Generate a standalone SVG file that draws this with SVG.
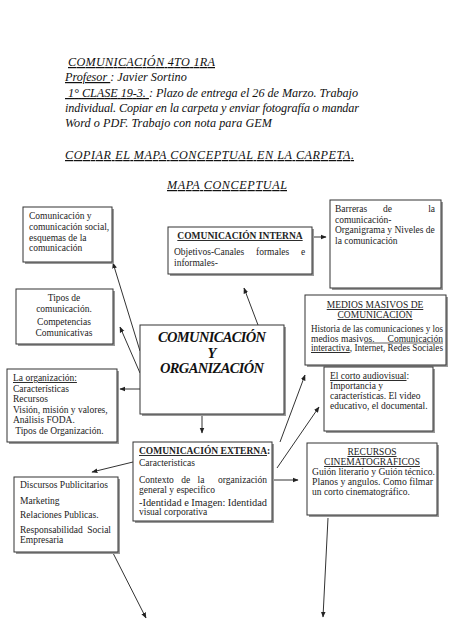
<svg xmlns="http://www.w3.org/2000/svg" width="453" height="640" viewBox="0 0 453 640">
<style>
.bg{fill:#fff}
.sh{fill:#9a9a9a}
.bx{fill:#fff;stroke:#333;stroke-width:1}
.h{font-family:"Liberation Serif","Times New Roman",serif;font-style:italic;font-size:12.2px;fill:#111}
.t{font-family:"Liberation Serif","Times New Roman",serif;font-size:9.5px;fill:#222}
.b{font-weight:bold}
.u{text-decoration:underline}
.c{text-anchor:middle}
.e{text-anchor:end}
.ul{stroke:#222;stroke-width:0.7}
.big{font-family:"Liberation Serif","Times New Roman",serif;font-style:italic;font-weight:bold;font-size:14.5px;fill:#111;text-anchor:middle}
.ln{stroke:#333;stroke-width:1;fill:none;marker-end:url(#ah)}
</style>
<defs>
<marker id="ah" viewBox="0 0 10 10" refX="9" refY="5" markerWidth="6" markerHeight="6" markerUnits="userSpaceOnUse" orient="auto">
<path d="M0,1 L10,5 L0,9 z" fill="#222"/>
</marker>
</defs>
<rect class="bg" width="453" height="640"/>
<g id="header">
<text class="h u" x="68" y="66" textLength="147">COMUNICACIÓN 4TO 1RA</text>
<text class="h" x="65" y="81"><tspan class="u">Profesor </tspan>: Javier Sortino</text>
<text class="h" x="65" y="97" xml:space="preserve" textLength="293"><tspan class="u"> 1° CLASE 19-3. </tspan>: Plazo de entrega el 26 de Marzo. Trabajo</text>
<text class="h" x="65" y="112" textLength="294">individual. Copiar en la carpeta y enviar fotografía o mandar</text>
<text class="h" x="65" y="127" textLength="207">Word o PDF. Trabajo con nota para GEM</text>
<text class="h u" x="65" y="159" textLength="289">COPIAR EL MAPA CONCEPTUAL EN LA CARPETA.</text>
<text class="h u" x="167" y="189" textLength="120">MAPA CONCEPTUAL</text>
</g>
<g id="connectors">
<line class="ln" x1="140" y1="351" x2="113" y2="263"/>
<line class="ln" x1="140" y1="373" x2="120" y2="327"/>
<line class="ln" x1="140" y1="389" x2="120" y2="389"/>
<line class="ln" x1="258" y1="325" x2="244" y2="288"/>
<line class="ln" x1="314" y1="237" x2="326" y2="237"/>
<line class="ln" x1="202" y1="415" x2="202" y2="433"/>
<line class="ln" x1="133" y1="462" x2="92" y2="472"/>
<line class="ln" x1="280" y1="442" x2="305" y2="375"/>
<line class="ln" x1="277" y1="468" x2="319" y2="407"/>
<line class="ln" x1="274" y1="480" x2="298" y2="480"/>
<line class="ln" x1="113" y1="553" x2="146" y2="618"/>
<line class="ln" x1="328" y1="518" x2="323" y2="617"/>
</g>
<g id="n-comunicacion">
<rect class="sh" x="25" y="209" width="89" height="55"/>
<rect class="bx" x="23" y="207" width="89" height="55"/>
<text class="t" x="29" y="219">Comunicación y</text>
<text class="t" x="29" y="230">comunicación social,</text>
<text class="t" x="29" y="241">esquemas de la</text>
<text class="t" x="29" y="251">comunicación</text>
</g>
<g id="n-tipos">
<rect class="sh" x="18" y="291" width="97" height="55"/>
<rect class="bx" x="16" y="289" width="97" height="55"/>
<text class="t c" x="64" y="301">Tipos de</text>
<text class="t c" x="64" y="312">comunicación.</text>
<text class="t c" x="64" y="325">Competencias</text>
<text class="t c" x="64" y="336">Comunicativas</text>
</g>
<g id="n-interna">
<rect class="sh" x="170" y="229" width="144" height="47"/>
<rect class="bx" x="168" y="227" width="144" height="47"/>
<text class="t b u c" x="240" y="239">COMUNICACIÓN INTERNA</text>
<text class="t" y="255"><tspan x="174">Objetivos-Canales</tspan><tspan x="256">formales</tspan><tspan x="301">e</tspan></text>
<text class="t" x="174" y="266">informales-</text>
</g>
<g id="n-barreras">
<rect class="sh" x="332" y="202" width="111" height="88"/>
<rect class="bx" x="330" y="200" width="111" height="88"/>
<text class="t" y="212"><tspan x="335">Barreras</tspan><tspan x="383">de</tspan></text>
<text class="t e" x="435" y="212">la</text>
<text class="t" x="335" y="222.5">comunicación-</text>
<text class="t" x="335" y="233">Organigrama y Niveles de</text>
<text class="t" x="335" y="243.5">la comunicación</text>
</g>
<g id="n-medios">
<rect class="sh" x="307" y="297" width="141" height="70"/>
<rect class="bx" x="305" y="295" width="141" height="70"/>
<text class="t u c" x="375" y="308">MEDIOS MASIVOS DE</text>
<text class="t u c" x="375" y="318">COMUNICACIÓN</text>
<text class="t" x="311" y="332" textLength="132" lengthAdjust="spacingAndGlyphs">Historia de las comunicaciones y los</text>
<text class="t" y="341.5"><tspan x="311">medios</tspan><tspan x="341">masivos.</tspan></text>
<text class="t e" x="443" y="341.5">Comunicación</text>
<line class="ul" x1="364" y1="343" x2="443" y2="343"/>
<text class="t" x="311" y="351" textLength="132" lengthAdjust="spacingAndGlyphs"><tspan class="u">interactiva</tspan>, Internet, Redes Sociales</text>
</g>
<g id="n-centro">
<rect class="sh" x="142" y="327" width="144" height="89"/>
<rect class="bx" x="140" y="325" width="144" height="89"/>
<text class="big" x="212" y="342" textLength="108">COMUNICACIÓN</text>
<text class="big" x="212" y="358">Y</text>
<text class="big" x="212" y="373" textLength="104">ORGANIZACIÓN</text>
</g>
<g id="n-organizacion">
<rect class="sh" x="9" y="371" width="110" height="73"/>
<rect class="bx" x="7" y="369" width="110" height="73"/>
<text class="t" x="13" y="381"><tspan class="u">La organización:</tspan></text>
<text class="t" x="13" y="392">Características</text>
<text class="t" x="13" y="402">Recursos</text>
<text class="t" x="13" y="413">Visión, misión y valores,</text>
<text class="t" x="13" y="423">Análisis FODA.</text>
<text class="t" x="13" y="434" xml:space="preserve"> Tipos de Organización.</text>
</g>
<g id="n-corto">
<rect class="sh" x="326" y="369" width="109" height="64"/>
<rect class="bx" x="324" y="367" width="109" height="64"/>
<text class="t" x="330" y="379"><tspan class="u">El corto audiovisual</tspan>:</text>
<text class="t" x="330" y="389">Importancia y</text>
<text class="t" x="330" y="399">características. El video</text>
<text class="t" x="330" y="409">educativo, el documental.</text>
</g>
<g id="n-externa">
<rect class="sh" x="135" y="444" width="139" height="79"/>
<rect class="bx" x="133" y="442" width="139" height="79"/>
<text class="t b" x="139" y="454"><tspan class="u">COMUNICACIÓN EXTERNA</tspan>:</text>
<text class="t" x="139" y="466">Caracteristicas</text>
<text class="t" x="139" y="483" word-spacing="5">Contexto de la</text>
<text class="t e" x="267" y="483">organización</text>
<text class="t" x="139" y="493">general y especifico</text>
<text class="t" x="139" y="506" textLength="128" lengthAdjust="spacingAndGlyphs">-Identidad e Imagen: Identidad</text>
<text class="t" x="139" y="515">visual corporativa</text>
</g>
<g id="n-recursos">
<rect class="sh" x="309" y="445" width="130" height="72"/>
<rect class="bx" x="307" y="443" width="130" height="72"/>
<text class="t u c" x="372" y="455">RECURSOS</text>
<text class="t u c" x="372" y="465">CINEMATOGRAFICOS</text>
<text class="t" x="312" y="475" textLength="123" lengthAdjust="spacingAndGlyphs">Guión literario y Guión técnico.</text>
<text class="t" x="312" y="485" textLength="121" lengthAdjust="spacingAndGlyphs">Planos y angulos. Como filmar</text>
<text class="t" x="312" y="495">un corto cinematográfico.</text>
</g>
<g id="n-discursos">
<rect class="sh" x="16" y="479" width="104" height="75"/>
<rect class="bx" x="14" y="477" width="104" height="75"/>
<text class="t" x="20" y="488">Discursos Publicitarios</text>
<text class="t" x="20" y="504">Marketing</text>
<text class="t" x="20" y="518">Relaciones Publicas.</text>
<text class="t" x="20" y="533">Responsabilidad</text>
<text class="t e" x="111" y="533">Social</text>
<text class="t" x="20" y="543">Empresaria</text>
</g>
</svg>
